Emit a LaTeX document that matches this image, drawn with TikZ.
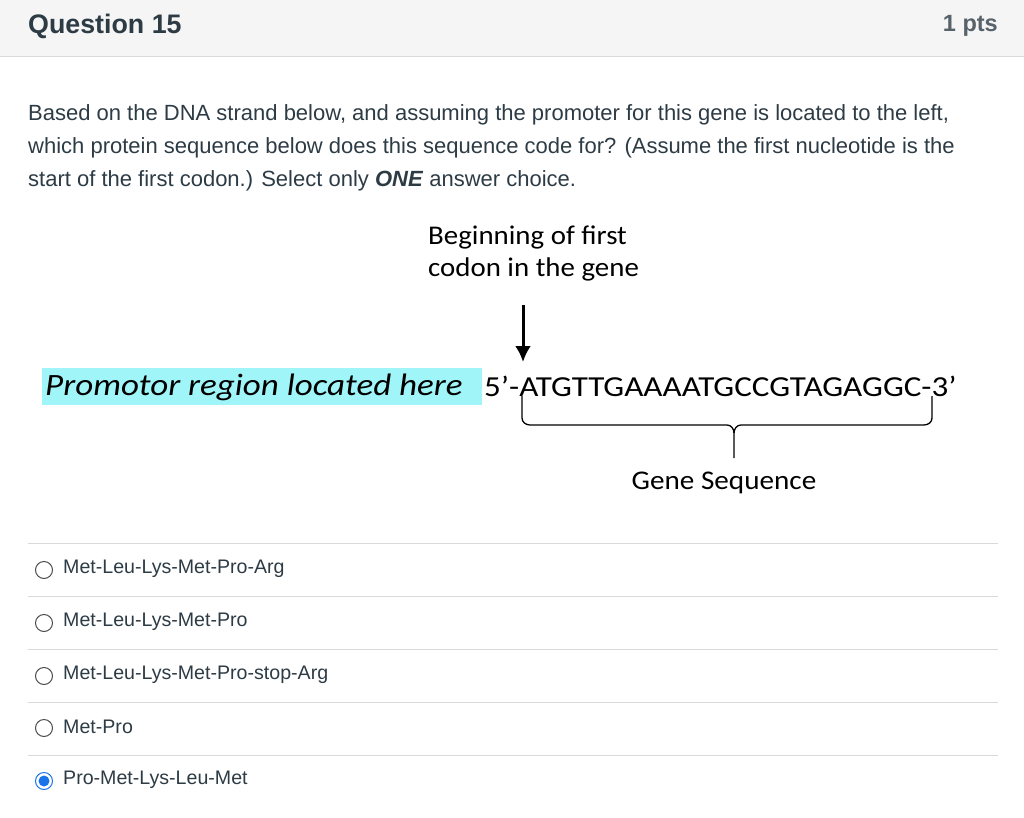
\documentclass[tikz,border=0pt]{standalone}
\usepackage{fontspec}
\usetikzlibrary{arrows.meta}
\setmainfont{Liberation Sans}
\newfontfamily\calfont{Carlito}
\definecolor{hdr}{HTML}{F5F5F5}
\definecolor{rule}{HTML}{D9D9D9}
\definecolor{cyanbox}{HTML}{9FF5F8}
\definecolor{radioblue}{HTML}{1A73E8}
\definecolor{txt}{HTML}{2D3B45}
\begin{document}
\begin{tikzpicture}[x=1pt,y=-1pt,
  body/.style={anchor=west,inner sep=0pt,font=\fontsize{22}{26}\selectfont,text=txt},
  opt/.style={anchor=west,inner sep=0pt,font=\fontsize{19.6}{23}\selectfont,text=txt},
  radio/.style={draw=black!70,line width=1pt,circle,minimum size=17pt,inner sep=0pt},
  sep/.style={draw=rule,line width=0.8pt},
  calt/.style={inner sep=0pt,font=\calfont\fontsize{27}{31}\selectfont}]
\useasboundingbox (0,0) rectangle (1024,818);
\fill[hdr] (0,0) rectangle (1024,57);
\draw[rule,line width=1pt] (0,57) -- (1024,57);
\node[anchor=west,inner sep=0pt,font=\bfseries\fontsize{26.8}{30}\selectfont,text=txt] (q) at (28,26) {Question 15};
\node[anchor=east,inner sep=0pt,font=\bfseries\fontsize{23.5}{26}\selectfont,text=txt!80] (p) at (998,26) {1 pts};
\node[body] (l1) at (28,115) {Based on the DNA strand below, and assuming the promoter for this gene is located to the left,};
\node[body] (l2) at (28,148) {which protein sequence below does this sequence code for? (Assume the first nucleotide is the};
\node[body] (l3) at (28,181) {start of the first codon.) Select only \textbf{\textit{ONE}} answer choice.};
\node[calt,anchor=west,align=left] (beg) at (428,253) {\scalebox{1.07}[1]{Beginning of first}\\[1pt]\scalebox{1.07}[1]{codon in the gene}};
\coordinate (at) at (523,305);
\coordinate (ah) at (523,362);
\draw[line width=3pt,-{Latex[length=16pt,width=16pt]}] (at) -- (ah);
\fill[cyanbox] (42,368) rectangle (482,405);
\node[calt,anchor=west,font=\calfont\itshape\fontsize{31}{34}\selectfont] (prom) at (45,387) {\scalebox{1.13}[1]{Promotor region located here}};
\node[calt,anchor=west,font=\calfont\fontsize{29}{32}\selectfont] (seq) at (484,386) {\scalebox{1.14}[1]{5’-ATGTTGAAAATGCCGTAGAGGC-3’}};
\draw[line width=1.3pt] (522,396) -- (522,418) to[out=-90,in=180] (530,425) -- (727,425) to[out=0,in=90] (734,433) -- (734,458);
\draw[line width=1.3pt] (932,396) -- (932,418) to[out=-90,in=0] (924,425) -- (741,425) to[out=180,in=90] (734,433);
\node[calt] (gs) at (724,483) {\scalebox{1.08}[1]{Gene Sequence}};
\foreach \y in {543,596,649,702,755} \draw[sep] (28,\y) -- (998,\y);
\node[radio] (r1) at (44,570) {};
\node[radio] (r2) at (44,623) {};
\node[radio] (r3) at (44,676) {};
\node[radio] (r4) at (44,728) {};
\node[radio,draw=radioblue,fill=white] (r5) at (44,781) {};
\fill[radioblue] (r5.center) circle (5.5pt);
\node[opt] (o1) at (63,569) {Met-Leu-Lys-Met-Pro-Arg};
\node[opt] (o2) at (63,622) {Met-Leu-Lys-Met-Pro};
\node[opt] (o3) at (63,675) {Met-Leu-Lys-Met-Pro-stop-Arg};
\node[opt] (o4) at (63,727) {Met-Pro};
\node[opt] (o5) at (63,780) {Pro-Met-Lys-Leu-Met};
\end{tikzpicture}
\end{document}
